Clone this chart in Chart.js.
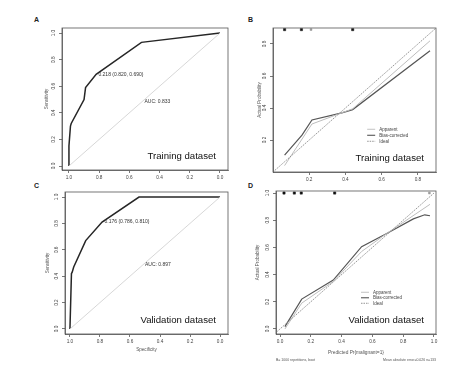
<!DOCTYPE html>
<html>
<head>
<meta charset="utf-8">
<script src="https://cdn.jsdelivr.net/npm/chart.js@4.4.1/dist/chart.umd.min.js"></script>
<style>
  body { margin: 0; background: #fff; width: 474px; height: 372px; position: relative; overflow: hidden; font-family: "Liberation Sans", Arial, sans-serif; }
  canvas { position: absolute; }
  .tag { position: absolute; font-weight: bold; font-size: 7px; color: #222; }
</style>
</head>
<body>
<div class="tag" style="left:34px;top:16px">A</div>
<div class="tag" style="left:248px;top:16px">B</div>
<div class="tag" style="left:34px;top:182px">C</div>
<div class="tag" style="left:248px;top:182px">D</div>
<canvas id="chartA" width="237" height="186" style="left:0;top:0"></canvas>
<canvas id="chartB" width="237" height="186" style="left:237px;top:0"></canvas>
<canvas id="chartC" width="237" height="186" style="left:0;top:186px"></canvas>
<canvas id="chartD" width="237" height="186" style="left:237px;top:186px"></canvas>
<script>
// ROC curves: specificity / sensitivity
const rocA_spec = [1.0, 1.0, 0.99, 0.985, 0.90, 0.89, 0.82, 0.52, 0.0];
const rocA_sens = [0.0, 0.15, 0.30, 0.32, 0.50, 0.59, 0.69, 0.93, 1.0];
const rocC_spec = [1.0, 0.99, 0.985, 0.975, 0.895, 0.786, 0.54, 0.0];
const rocC_sens = [0.0, 0.42, 0.43, 0.47, 0.67, 0.81, 1.0, 1.0];
const chanceLine = [0, 1];

// calibration curves: predicted / actual
const appB_x = [0.064, 0.215, 0.38, 0.44, 0.867];
const appB_y = [0.04, 0.30, 0.37, 0.395, 0.82];
const biasB_x = [0.064, 0.16, 0.215, 0.38, 0.44, 0.867];
const biasB_y = [0.106, 0.23, 0.325, 0.37, 0.39, 0.758];
const idealB = [0, 0.9];
const rugB = [0.064, 0.157, 0.44];
const rugB_faint = [0.21];

const appD_x = [0.032, 0.141, 0.346, 0.53, 0.69, 0.974];
const appD_y = [0.0, 0.19, 0.35, 0.57, 0.70, 0.917];
const biasD_x = [0.032, 0.141, 0.346, 0.53, 0.69, 0.866, 0.94, 0.974];
const biasD_y = [0.017, 0.22, 0.36, 0.605, 0.70, 0.81, 0.84, 0.833];
const idealD = [-0.03, 1.0];
const rugD = [0.026, 0.093, 0.138, 0.355];
const rugD_faint = [0.97];

// tick labels
const rocTicks = [0.0, 0.2, 0.4, 0.6, 0.8, 1.0];
const calTicksB = [0.2, 0.4, 0.6, 0.8];
const calTicksD = [0.0, 0.2, 0.4, 0.6, 0.8, 1.0];

const legendNames = ['Apparent', 'Bias-corrected', 'Ideal'];

const pts = (xs, ys) => xs.map((x, i) => ({ x: x, y: ys[i] }));

function axis(o) {
  const horizontal = o.horizontal;
  return {
    type: 'linear',
    min: o.min, max: o.max, reverse: !!o.reverse,
    afterBuildTicks: s => { s.ticks = o.ticks.map(v => ({ value: v })); },
    afterFit: s => { if (horizontal) s.height = o.size; else s.width = o.size; },
    grid: { drawOnChartArea: false, drawTicks: true, tickLength: 3, color: '#555', lineWidth: 0.8 },
    border: { display: true, color: '#555', width: 0.8 },
    ticks: Object.assign({
      font: { size: 4.7 }, color: '#444', padding: 2,
      callback: v => Number(v).toFixed(1)
    }, horizontal ? { maxRotation: 0 } : { minRotation: 90, maxRotation: 90, crossAlign: 'center' }),
    title: {
      display: !!o.title, text: o.title || '', color: '#555',
      font: { size: o.titleSize || 4.6 },
      padding: horizontal ? { top: 0, bottom: o.titlePad || 0 } : { top: o.titlePad || 0, bottom: 0 }
    }
  };
}

// box around the plotting region + text items
const panelDecor = {
  id: 'panelDecor',
  afterDraw(chart, args, opts) {
    const ctx = chart.ctx, a = chart.chartArea;
    const sx = chart.scales.x, sy = chart.scales.y;
    ctx.save();
    ctx.strokeStyle = '#555';
    ctx.lineWidth = 0.8;
    ctx.strokeRect(a.left, a.top, a.right - a.left, a.bottom - a.top);
    (opts.notes || []).forEach(n => {
      ctx.font = n.font;
      ctx.fillStyle = n.color || '#333';
      ctx.textAlign = n.align || 'left';
      ctx.textBaseline = 'middle';
      ctx.fillText(n.text, sx.getPixelForValue(n.x), sy.getPixelForValue(n.y));
    });
    if (opts.label) {
      ctx.font = '9.6px "Liberation Sans", Arial, sans-serif';
      ctx.fillStyle = '#111';
      ctx.textAlign = 'right';
      ctx.textBaseline = 'middle';
      ctx.fillText(opts.label, a.right - 12, a.bottom - 14);
    }
    if (opts.legend) {
      const lg = opts.legend;
      const styles = [
        { c: '#bbb', w: 0.9, d: [] },
        { c: '#555', w: 1.1, d: [] },
        { c: '#777', w: 0.8, d: [1.5, 1] }
      ];
      const x0 = sx.getPixelForValue(lg.x);
      legendNames.forEach((name, i) => {
        const y = sy.getPixelForValue(lg.y) + i * lg.gap;
        ctx.beginPath();
        ctx.strokeStyle = styles[i].c;
        ctx.lineWidth = styles[i].w;
        ctx.setLineDash(styles[i].d);
        ctx.moveTo(x0, y);
        ctx.lineTo(x0 + 8, y);
        ctx.stroke();
        ctx.setLineDash([]);
        ctx.font = '4.5px "Liberation Sans", Arial, sans-serif';
        ctx.fillStyle = '#444';
        ctx.textAlign = 'left';
        ctx.textBaseline = 'middle';
        ctx.fillText(name, x0 + 12, y);
      });
    }
    (opts.foot || []).forEach(f => {
      ctx.font = '3.5px "Liberation Sans", Arial, sans-serif';
      ctx.fillStyle = '#555';
      ctx.textAlign = f.align;
      ctx.textBaseline = 'middle';
      ctx.fillText(f.text, f.align === 'left' ? a.left : a.right, a.bottom + f.dy);
    });
    ctx.restore();
  }
};

function lineSet(data, color, width, dash) {
  return { data: data, showLine: true, pointRadius: 0, borderColor: color, borderWidth: width, borderDash: dash || [], fill: false };
}

function rugSet(xs, yTop, color, r) {
  return { data: xs.map(x => ({ x: x, y: yTop })), showLine: false, pointStyle: 'rect', pointRadius: r, backgroundColor: color, borderColor: color, borderWidth: 0.5, clip: false };
}

function makeChart(id, datasets, scales, padding, decor) {
  return new Chart(document.getElementById(id), {
    type: 'scatter',
    data: { datasets: datasets },
    options: {
      responsive: false, animation: false, devicePixelRatio: 1,
      layout: { padding: padding },
      plugins: { legend: { display: false }, tooltip: { enabled: false }, panelDecor: decor },
      scales: scales
    },
    plugins: [panelDecor]
  });
}

const fnt = s => s + 'px "Liberation Sans", Arial, sans-serif';

// A: training ROC
makeChart('chartA', [
  lineSet(pts([1, 0], chanceLine), '#d2d2d2', 0.9),
  lineSet(pts(rocA_spec, rocA_sens), '#262626', 1.5)
], {
  x: axis({ horizontal: true, min: -0.053, max: 1.046, reverse: true, ticks: rocTicks, size: 16 }),
  y: axis({ min: -0.03, max: 1.038, ticks: rocTicks, size: 21, title: 'Sensitivity', titlePad: 3 })
}, { left: 41, top: 28, right: 9, bottom: 0 }, {
  label: 'Training dataset',
  notes: [
    { text: '0.218 (0.820, 0.690)', x: 0.805, y: 0.69, font: fnt(5) },
    { text: 'AUC: 0.833', x: 0.5, y: 0.485, font: fnt(5) }
  ]
});

// C: validation ROC
makeChart('chartC', [
  lineSet(pts([1, 0], chanceLine), '#d2d2d2', 0.9),
  lineSet(pts(rocC_spec, rocC_sens), '#262626', 1.5)
], {
  x: axis({ horizontal: true, min: -0.053, max: 1.033, reverse: true, ticks: rocTicks, size: 18, title: 'Specificity' }),
  y: axis({ min: -0.038, max: 1.038, ticks: rocTicks, size: 21, title: 'Sensitivity', titlePad: 1 })
}, { left: 44, top: 6, right: 9, bottom: 20 }, {
  label: 'Validation dataset',
  notes: [
    { text: '0.176 (0.786, 0.810)', x: 0.77, y: 0.81, font: fnt(5) },
    { text: 'AUC: 0.897', x: 0.5, y: 0.485, font: fnt(5) }
  ]
});

// B: training calibration
makeChart('chartB', [
  lineSet(pts(idealB, idealB), '#8a8a8a', 0.9, [1.5, 1]),
  lineSet(pts(appB_x, appB_y), '#bdbdbd', 1),
  lineSet(pts(biasB_x, biasB_y), '#555', 1.2),
  rugSet(rugB, 0.89, '#111', 1.6),
  rugSet(rugB_faint, 0.89, '#999', 1.3)
], {
  x: axis({ horizontal: true, min: 0, max: 0.9, ticks: calTicksB, size: 14 }),
  y: axis({ min: 0, max: 0.9, ticks: calTicksB, size: 20, title: 'Actual Probability', titlePad: 4 })
}, { left: 16, top: 28, right: 38, bottom: 0 }, {
  label: 'Training dataset',
  legend: { x: 0.52, y: 0.267, gap: 6 }
});

// D: validation calibration
makeChart('chartD', [
  lineSet(pts(idealD, idealD), '#8a8a8a', 0.9, [1.5, 1]),
  lineSet(pts(appD_x, appD_y), '#bdbdbd', 1),
  lineSet(pts(biasD_x, biasD_y), '#555', 1.2),
  rugSet(rugD, 1.0, '#111', 1.6),
  rugSet(rugD_faint, 1.0, '#999', 1.3)
], {
  x: axis({ horizontal: true, min: -0.026, max: 1.013, ticks: calTicksD, size: 22, title: 'Predicted Pr{malignant=1}', titleSize: 4.8 }),
  y: axis({ min: -0.037, max: 1.015, ticks: calTicksD, size: 25, title: 'Actual Probability', titlePad: 4 })
}, { left: 14, top: 5, right: 38, bottom: 16 }, {
  label: 'Validation dataset',
  legend: { x: 0.526, y: 0.27, gap: 5.5 },
  foot: [
    { text: 'B= 1000 repetitions, boot', align: 'left', dy: 26 },
    { text: 'Mean absolute error=0.026 n=133', align: 'right', dy: 26 }
  ]
});
</script>
</body>
</html>
